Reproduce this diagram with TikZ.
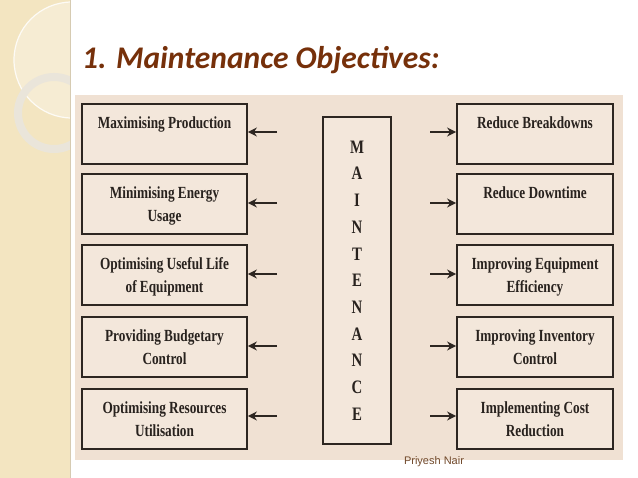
\documentclass[tikz,border=0pt]{standalone}
\usepackage{fontspec}
\usetikzlibrary{positioning,arrows.meta}
\setmainfont{Liberation Serif}
\newfontfamily\titlefont{Carlito}
\newfontfamily\boxfont[FakeStretch=0.78]{Liberation Serif}
\newfontfamily\notefont{Liberation Sans}
\definecolor{strip}{RGB}{243,229,193}
\definecolor{stripedge}{RGB}{214,203,178}
\definecolor{ringcol}{RGB}{234,229,218}
\definecolor{panel}{RGB}{240,225,211}
\definecolor{boxfill}{RGB}{243,231,219}
\definecolor{boxline}{RGB}{45,38,33}
\definecolor{inkcol}{RGB}{40,34,30}
\definecolor{titlecol}{RGB}{118,48,10}
\definecolor{notecol}{RGB}{112,72,42}
\begin{document}
\begin{tikzpicture}[x=1pt,y=-1pt]
    \tikzstyle{objbox}=[draw=boxline,line width=1.8pt,fill=boxfill,minimum height=60pt,inner sep=0pt]
    \tikzstyle{leftbox}=[objbox,minimum width=165pt]
    \tikzstyle{rightbox}=[objbox,minimum width=156pt]
    \tikzstyle{objtext}=[inner sep=0pt,align=center,text=inkcol,font=\boxfont\bfseries\fontsize{17}{23}\selectfont]
    \tikzstyle{arr}=[draw=boxline,line width=2pt,-{Stealth[length=9pt,width=9pt]}]
    \path[use as bounding box] (0,0) rectangle (638,478);

    \fill[strip] (0,0) rectangle (70,478);
    \begin{scope}
      \clip (0,0) rectangle (70,478);
      \fill[white,opacity=0.3] (72,60) circle (58pt);
      \draw[white!85!strip,line width=1.2pt] (72,60) circle (58pt);
      \draw[ringcol,line width=8pt] (54,113) circle (36pt);
    \end{scope}
    \draw[stripedge,line width=1pt] (70,0) -- (70,478);

    \node[anchor=base west,inner sep=0pt,text=titlecol,font=\titlefont\bfseries\itshape\fontsize{31.5}{36}\selectfont] (title) at (82,69) {1. Maintenance Objectives:};

    \fill[panel] (75,95) rectangle (623,460);

    \node[leftbox] (l1) at (164.5,134) {};
      \node[objtext,below=13pt of l1.north] (l1t) {Maximising Production};
    \node[leftbox] (l2) at (164.5,204) {};
      \node[objtext,below=13pt of l2.north] (l2t) {Minimising Energy\\Usage};
    \node[leftbox] (l3) at (164.5,275) {};
      \node[objtext,below=13pt of l3.north] (l3t) {Optimising Useful Life\\of Equipment};
    \node[leftbox] (l4) at (164.5,347) {};
      \node[objtext,below=13pt of l4.north] (l4t) {Providing Budgetary\\Control};
    \node[leftbox] (l5) at (164.5,419) {};
      \node[objtext,below=13pt of l5.north] (l5t) {Optimising Resources\\Utilisation};

    \node[rightbox] (r1) at (535,134) {};
      \node[objtext,below=13pt of r1.north] (r1t) {Reduce Breakdowns};
    \node[rightbox] (r2) at (535,204) {};
      \node[objtext,below=13pt of r2.north] (r2t) {Reduce Downtime};
    \node[rightbox] (r3) at (535,275) {};
      \node[objtext,below=13pt of r3.north] (r3t) {Improving Equipment\\Efficiency};
    \node[rightbox] (r4) at (535,347) {};
      \node[objtext,below=13pt of r4.north] (r4t) {Improving Inventory\\Control};
    \node[rightbox] (r5) at (535,419) {};
      \node[objtext,below=13pt of r5.north] (r5t) {Implementing Cost\\Reduction};

    \node[objbox,minimum width=68pt,minimum height=327pt,align=center,text=inkcol,
          font=\boxfont\bfseries\fontsize{19}{26.7}\selectfont] (mbox) at (357,280.5)
          {M\\A\\I\\N\\T\\E\\N\\A\\N\\C\\E};

    \coordinate (la) at (277,0);
    \coordinate (ra) at (430,0);
    \draw[arr] ([yshift=2pt]l1.east -| la) -- ([yshift=2pt]l1.east);
    \draw[arr] ([yshift=1pt]l2.east -| la) -- ([yshift=1pt]l2.east);
    \draw[arr] ([yshift=1pt]l3.east -| la) -- ([yshift=1pt]l3.east);
    \draw[arr] ([yshift=1pt]l4.east -| la) -- ([yshift=1pt]l4.east);
    \draw[arr] ([yshift=3pt]l5.east -| la) -- ([yshift=3pt]l5.east);
    \draw[arr] ([yshift=2pt]r1.west -| ra) -- ([yshift=2pt]r1.west);
    \draw[arr] ([yshift=1pt]r2.west -| ra) -- ([yshift=1pt]r2.west);
    \draw[arr] ([yshift=1pt]r3.west -| ra) -- ([yshift=1pt]r3.west);
    \draw[arr] ([yshift=1pt]r4.west -| ra) -- ([yshift=1pt]r4.west);
    \draw[arr] ([yshift=3pt]r5.west -| ra) -- ([yshift=3pt]r5.west);

    \node[text=notecol,font=\notefont\fontsize{11}{13}\selectfont,inner sep=0pt] (author) at (434,462) {Priyesh Nair};
\end{tikzpicture}
\end{document}
